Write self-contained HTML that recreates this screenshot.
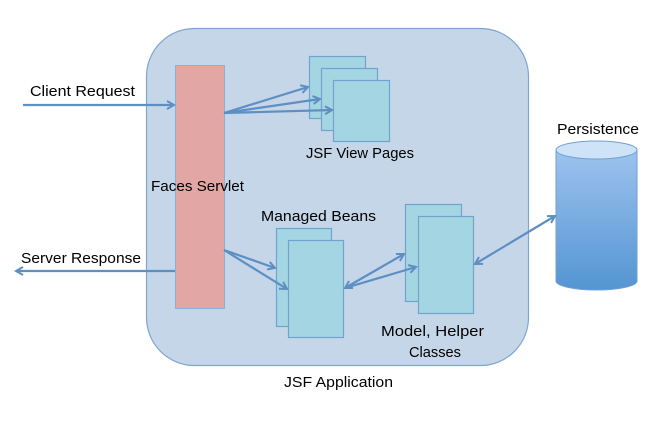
<!DOCTYPE html>
<html><head><meta charset="utf-8"><style>
html,body{margin:0;padding:0;background:#fff;}
svg{display:block;}
text{font-family:"Liberation Sans",sans-serif;font-size:15px;fill:#000;}
</style></head><body>
<svg width="662" height="423" viewBox="0 0 662 423" xmlns="http://www.w3.org/2000/svg">
<defs>
<marker id="a" markerWidth="10" markerHeight="10" refX="8" refY="5" orient="auto" markerUnits="userSpaceOnUse">
<path d="M1,1 L8,5 L1,9" fill="none" stroke="#5d8fc3" stroke-width="2"/>
</marker>
<marker id="s" markerWidth="10" markerHeight="10" refX="2" refY="5" orient="auto" markerUnits="userSpaceOnUse">
<path d="M9,1 L2,5 L9,9" fill="none" stroke="#5d8fc3" stroke-width="2"/>
</marker>
<linearGradient id="g" x1="0" y1="0" x2="0" y2="1">
<stop offset="0" stop-color="#9dc3ee"/><stop offset="1" stop-color="#5495d3"/>
</linearGradient>
</defs>
<rect x="146.5" y="28.5" width="382" height="337" rx="48" fill="#c5d6e9" stroke="#7fa6d0" stroke-width="1.2"/>
<rect x="175.5" y="65.5" width="49" height="243" fill="#e2a6a4" stroke="#8ab0d6"/>
<g fill="#a4d5e2" stroke="#6fa4cf" stroke-width="1.2">
<rect x="309.5" y="56.5" width="56" height="62"/>
<rect x="321.5" y="68.5" width="56" height="62"/>
<rect x="333.5" y="80.5" width="56" height="61"/>
<rect x="276.5" y="228.5" width="55" height="98"/>
<rect x="288.5" y="240.5" width="55" height="97"/>
<rect x="405.5" y="204.5" width="56" height="97"/>
<rect x="418.5" y="216.5" width="55" height="97"/>
</g>
<path d="M556,150 V281 A40.5,9 0 0 0 637,281 V150 Z" fill="url(#g)" stroke="#6fa0d0"/>
<ellipse cx="596.5" cy="150" rx="40.5" ry="9" fill="#cfe3f8" stroke="#6fa0d0"/>
<g stroke="#5d8fc3" stroke-width="2.2" fill="none">
<line x1="23" y1="105" x2="174" y2="105" marker-end="url(#a)"/>
<line x1="175" y1="271" x2="16" y2="271" marker-end="url(#a)"/>
<line x1="224" y1="113" x2="308" y2="87" marker-end="url(#a)"/>
<line x1="224" y1="113" x2="320" y2="99" marker-end="url(#a)"/>
<line x1="224" y1="113" x2="332" y2="110" marker-end="url(#a)"/>
<line x1="224" y1="250" x2="275" y2="268" marker-end="url(#a)"/>
<line x1="224" y1="250" x2="287" y2="289" marker-end="url(#a)"/>
<line x1="345" y1="288" x2="404" y2="254" marker-start="url(#s)" marker-end="url(#a)"/>
<line x1="345" y1="288" x2="416" y2="267" marker-end="url(#a)"/>
<line x1="475" y1="264" x2="555" y2="216" marker-start="url(#s)" marker-end="url(#a)"/>
</g>
<g lengthAdjust="spacingAndGlyphs">
<text x="30" y="96" textLength="105" lengthAdjust="spacingAndGlyphs">Client Request</text>
<text x="21" y="263" textLength="120" lengthAdjust="spacingAndGlyphs">Server Response</text>
<text x="151" y="191" textLength="93" lengthAdjust="spacingAndGlyphs">Faces Servlet</text>
<text x="306" y="158" textLength="108" lengthAdjust="spacingAndGlyphs">JSF View Pages</text>
<text x="261" y="221" textLength="115" lengthAdjust="spacingAndGlyphs">Managed Beans</text>
<text x="381" y="336" textLength="103" lengthAdjust="spacingAndGlyphs">Model, Helper</text>
<text x="409" y="357" textLength="52" lengthAdjust="spacingAndGlyphs">Classes</text>
<text x="284" y="387" textLength="109" lengthAdjust="spacingAndGlyphs">JSF Application</text>
<text x="557" y="134" textLength="82" lengthAdjust="spacingAndGlyphs">Persistence</text>
</g>
</svg>
</body></html>
